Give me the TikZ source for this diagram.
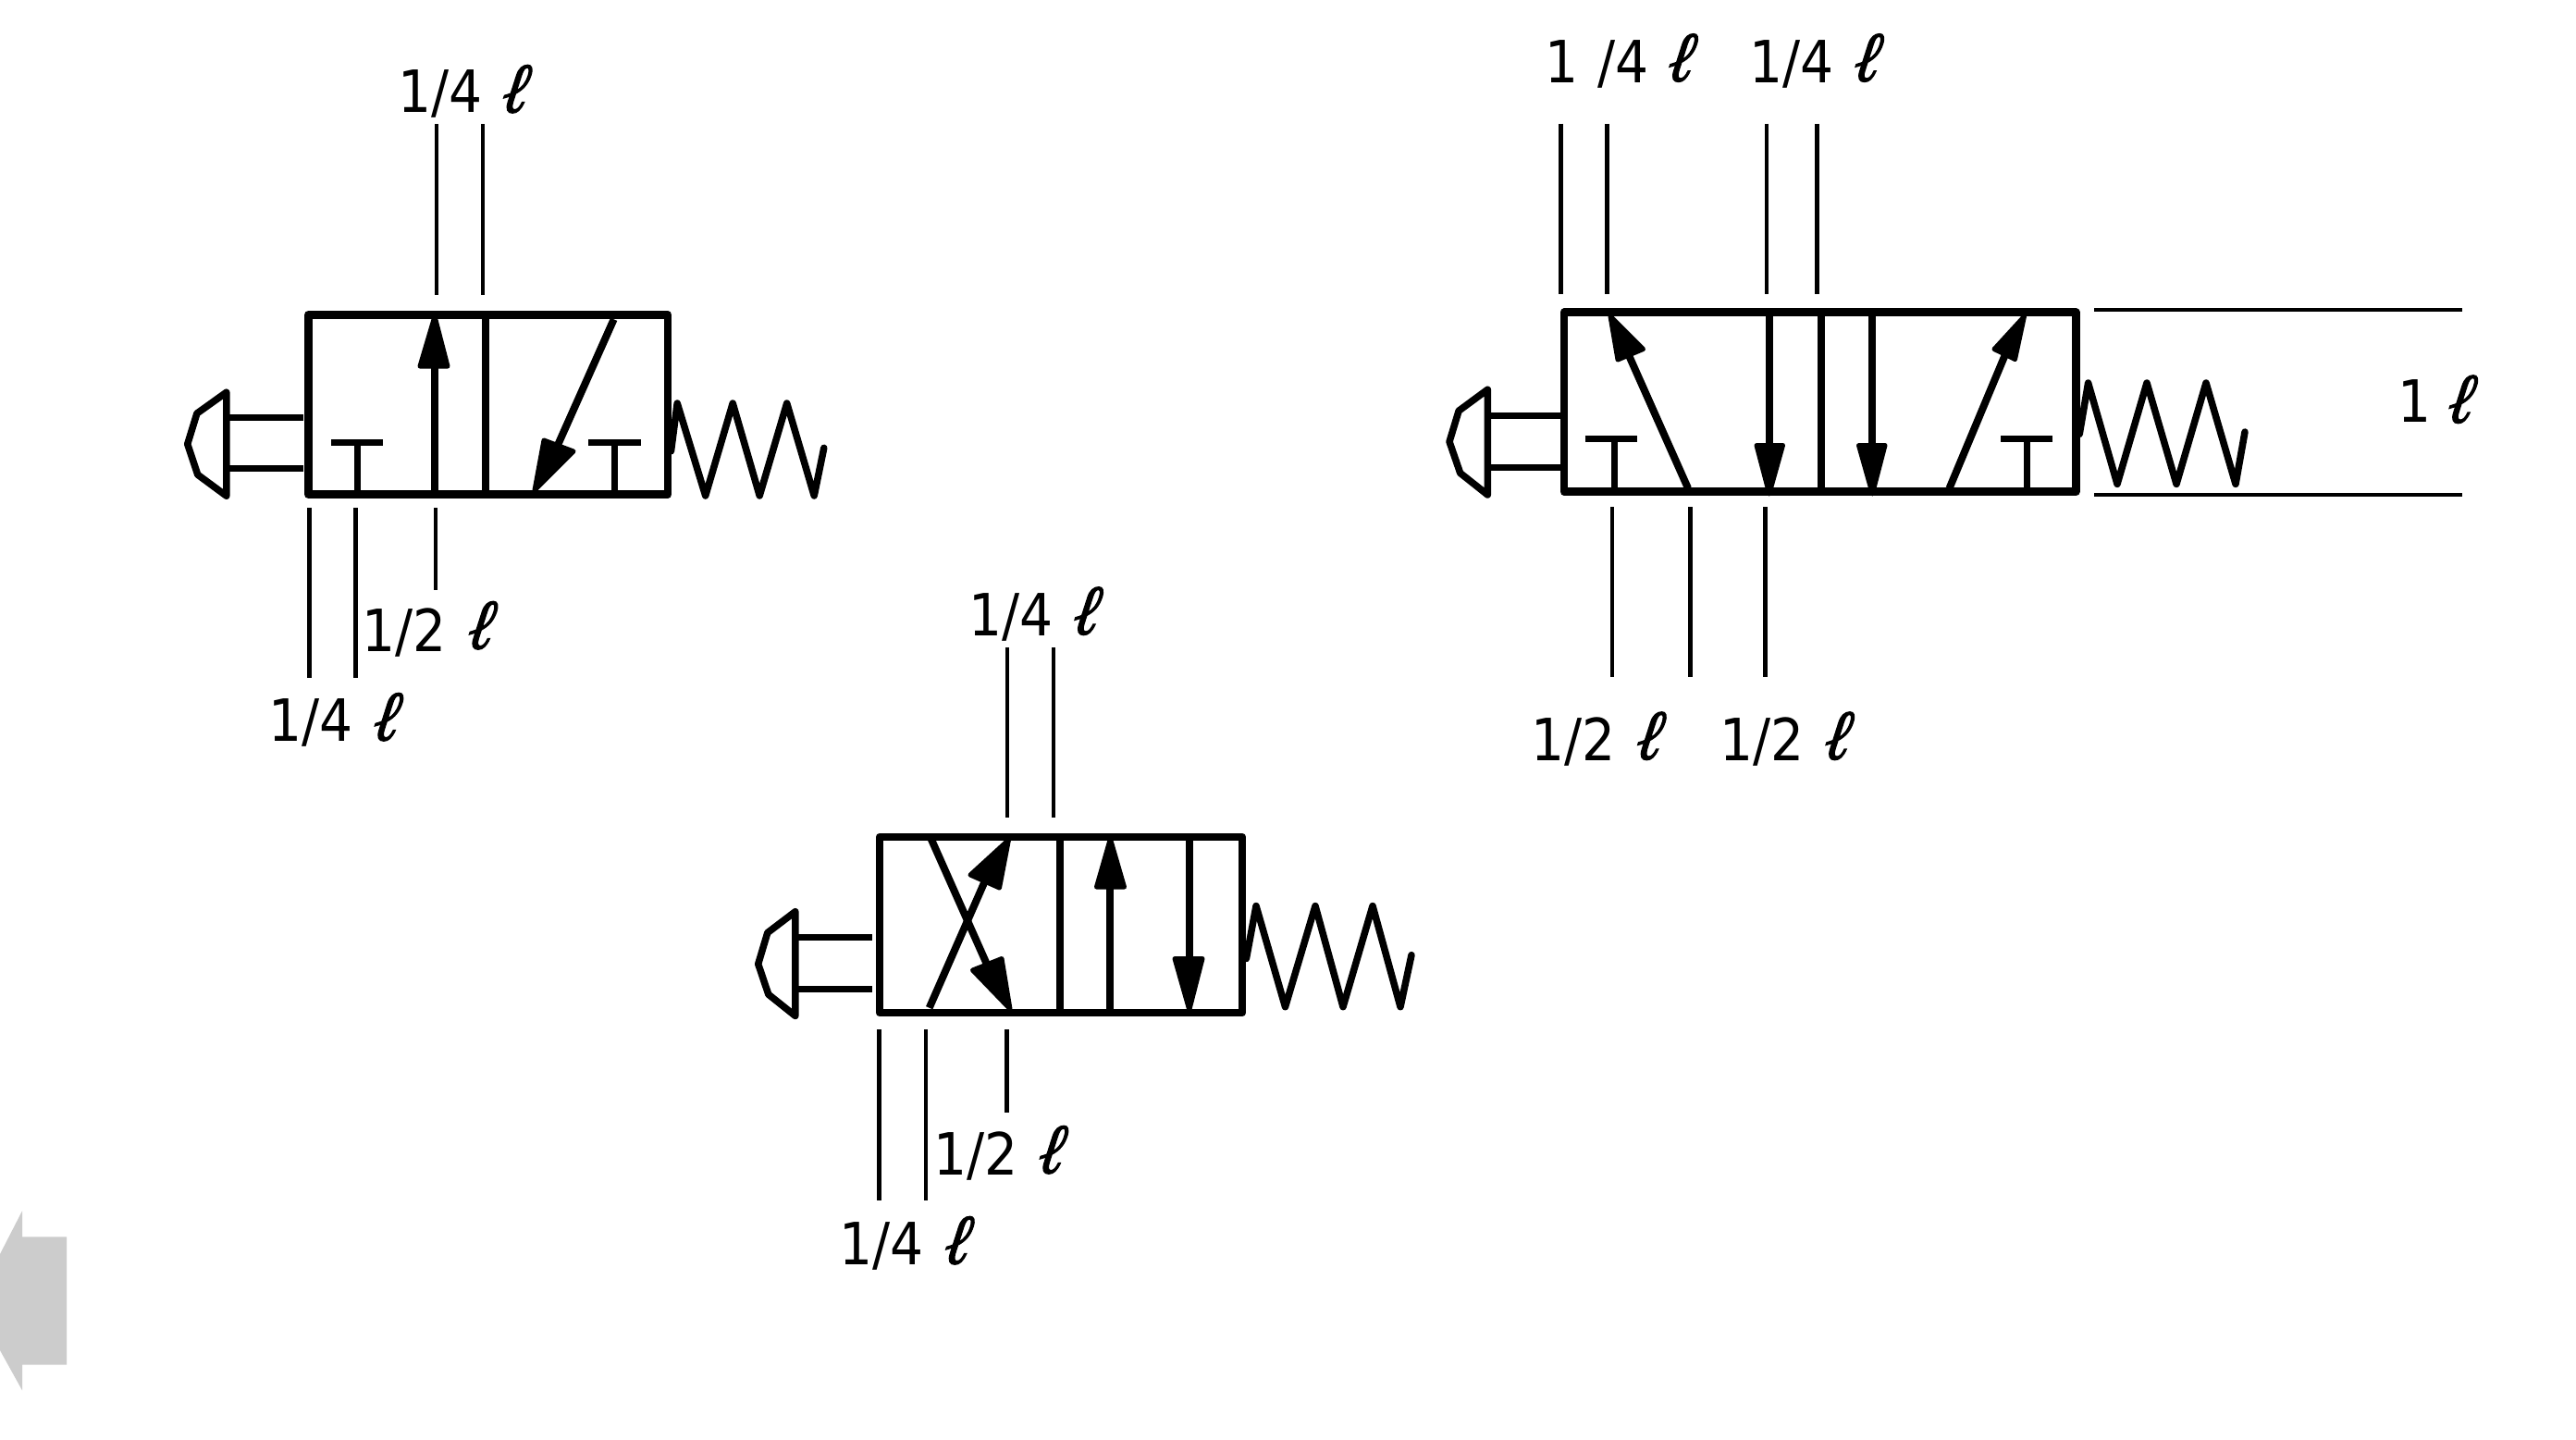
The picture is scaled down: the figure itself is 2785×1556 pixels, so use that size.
\documentclass[tikz,border=0pt]{standalone}
\usepackage{fontspec}
\setmainfont[FakeStretch=0.9]{DejaVu Sans}
\newfontfamily\ellfont[FakeSlant=0.32,FakeBold=1.6,FakeStretch=0.85]{Liberation Serif}
\tikzset{
  vbox/.style={draw=black,line width=8.5pt,line join=round,line cap=round},
  divider/.style={draw=black,line width=8pt},
  rod/.style={draw=black,line width=7pt},
  shaft/.style={draw=black,line width=8pt},
  thinl/.style={draw=black,line width=4.5pt},
  tee/.style={draw=black,line width=7pt},
  head/.style={draw=black,fill=black,line width=5pt,line join=round},
  button/.style={draw=black,line width=7.5pt,line join=round},
  spring/.style={draw=black,line width=7.5pt,line join=round,line cap=round},
  lbl/.style={anchor=base west,inner sep=0pt,xshift=1.5pt,font=\fontsize{63}{70}\selectfont},
  ellt/.style={anchor=base west,inner sep=0pt,xshift=-10pt,yshift=1.5pt}
}
\newcommand{\litre}{{\fontsize{77}{82}\selectfont\ellfont ℓ}}
\begin{document}
\begin{tikzpicture}[x=1pt,y=-1pt]
\useasboundingbox (0,0) rectangle (2785,1556);
\fill[white] (0,0) rectangle (2785,1556);
% grey back arrow
\fill[black!20] (0,1356) -- (24,1309.3) -- (24,1337.3) -- (72,1337.3) -- (72,1475.7) -- (24,1475.7) -- (24,1503.3) -- (0,1460) -- cycle;

% ---------- valve 1 ----------
\draw[vbox] (333.3,340.3) rectangle (722,534.7);
\draw[divider] (525.3,340.3) -- (525.3,534.7);
\draw[shaft] (470,534.7) -- (470,396);
\draw[head] (470,342) -- (454,396) -- (484,396) -- cycle;
\draw[shaft] (663.6,345.3) -- (600,488);
\draw[head] (578,530) -- (588,476) -- (620,488) -- cycle;
\draw[tee] (358.4,478.7) -- (413.6,478.7) (386.5,478.7) -- (386.5,534.7);
\draw[tee] (636,478.7) -- (692.6,478.7) (664.5,478.7) -- (664.5,534.7);
\draw[button] (244.8,424.2) -- (212.9,447) -- (202.7,480.2) -- (213.8,513.3) -- (244.8,536.2) -- cycle;
\draw[rod] (244.8,451.2) -- (327.5,451.2) (244.8,506.7) -- (327.5,506.7);
\draw[spring] (725.5,487.8) -- (732.2,436) -- (762.7,536) -- (792.2,436) -- (821.2,536) -- (850.7,436) -- (880.2,536) -- (890.8,484.3);
\draw[thinl] (472,134) -- (472,319) (522,134) -- (522,319);
\draw[thinl] (334.3,549) -- (334.3,732.6) (384.6,549) -- (384.6,732.6) (471,549) -- (471,638.4);
\node[lbl] (a1) at (428.6,121.4) {1/4};
\node[ellt] (a1e) at (545.5,123) {\litre};
\node[lbl] (a2) at (389.8,704) {1/2};
\node[ellt] (a2e) at (508.3,703) {\litre};
\node[lbl] (a3) at (288.4,801.8) {1/4};
\node[ellt] (a3e) at (406.2,802) {\litre};

% ---------- valve 3 ----------
\draw[vbox] (951,905) rectangle (1343,1095);
\draw[divider] (1146,905) -- (1146,1095);
\draw[shaft] (1200.4,1095) -- (1200.4,959);
\draw[head] (1200.4,907) -- (1185.5,959) -- (1215.5,959) -- cycle;
\draw[shaft] (1285.8,905) -- (1285.8,1036.5);
\draw[head] (1285.8,1092) -- (1270,1036.5) -- (1300,1036.5) -- cycle;
\draw[shaft] (1006.2,906) -- (1068,1045);
\draw[head] (1092,1091) -- (1051.5,1049) -- (1083,1036.5) -- cycle;
\draw[shaft] (1004.7,1089.7) -- (1066,950);
\draw[head] (1090.5,908) -- (1049,946) -- (1080.5,960) -- cycle;
\draw[button] (859.8,985.7) -- (829.8,1008.5) -- (819.7,1042.3) -- (830.8,1075.2) -- (859.8,1098.4) -- cycle;
\draw[rod] (859.8,1013.8) -- (943.2,1013.8) (859.8,1069.4) -- (943.2,1069.4);
\draw[spring] (1347.4,1036.5) -- (1358,979.5) -- (1389.5,1088.7) -- (1422,979.5) -- (1452,1088.7) -- (1484,979.5) -- (1514,1088.7) -- (1526,1032.6);
\draw[thinl] (1089,700) -- (1089,883.7) (1139,700) -- (1139,883.7);
\draw[thinl] (950.3,1113) -- (950.3,1297.6) (1001,1113) -- (1001,1297.6) (1088.6,1113) -- (1088.6,1203.3);
\node[lbl] (b1) at (1045.8,687.4) {1/4};
\node[ellt] (b1e) at (1162.9,687.4) {\litre};
\node[lbl] (b2) at (1007.7,1270) {1/2};
\node[ellt] (b2e) at (1125.2,1270) {\litre};
\node[lbl] (b3) at (906,1367.8) {1/4};
\node[ellt] (b3e) at (1023.6,1368) {\litre};

% ---------- valve 2 ----------
\draw[vbox] (1691,337.7) rectangle (2244.3,531.7);
\draw[divider] (1968.6,337.7) -- (1968.6,531.7);
\draw[shaft] (1825,528) -- (1760,382);
\draw[head] (1741,342) -- (1749,389) -- (1776.5,377.5) -- cycle;
\draw[shaft] (1912.8,337.7) -- (1912.8,480);
\draw[head] (1912.8,534) -- (1899,481.5) -- (1927.5,481.5) -- cycle;
\draw[shaft] (2024.3,337.7) -- (2024.3,480);
\draw[head] (2024.3,534) -- (2009.5,481.5) -- (2038,481.5) -- cycle;
\draw[shaft] (2107.5,528) -- (2168.5,382);
\draw[head] (2188.5,342) -- (2156,377.5) -- (2178.5,388.5) -- cycle;
\draw[tee] (1713.5,474.8) -- (1769.7,474.8) (1745.5,474.8) -- (1745.5,531.7);
\draw[tee] (2163.3,474.8) -- (2219.4,474.8) (2191.3,474.8) -- (2191.3,531.7);
\draw[button] (1608.3,421.2) -- (1577.1,444.2) -- (1567,477.6) -- (1578.7,511.5) -- (1608.3,535) -- cycle;
\draw[rod] (1608.3,449.7) -- (1691,449.7) (1608.3,505) -- (1691,505);
\draw[spring] (2248.2,469.4) -- (2257.6,414) -- (2289,523.4) -- (2321,414) -- (2353,523.4) -- (2385,414) -- (2417,523.4) -- (2427,467);
\draw[thinl] (1687.5,133.5) -- (1687.5,318) (1737.5,133.5) -- (1737.5,318) (1910,133.5) -- (1910,318) (1964.5,133.5) -- (1964.5,318);
\draw[thinl] (1743,548) -- (1743,732) (1827.5,548) -- (1827.5,732) (1908.5,548) -- (1908.5,732);
\draw[thinl] (2264,335.2) -- (2661.5,335.2) (2264,535) -- (2661.5,535);
\node[lbl] (c1) at (1668.4,89) {1\hspace{3.5pt} /4};
\node[ellt] (c1e) at (1805.9,89.3) {\litre};
\node[lbl] (c2) at (1889.8,89) {1/4};
\node[ellt] (c2e) at (2007,89.3) {\litre};
\node[lbl] (c3) at (1653.6,822) {1/2};
\node[ellt] (c3e) at (1771.6,822.5) {\litre};
\node[lbl] (c4) at (1857.8,822) {1/2};
\node[ellt] (c4e) at (1975,822.5) {\litre};
\node[lbl] (c5) at (2590.4,456.8) {1};
\node[ellt] (c5e) at (2649,458.5) {\litre};
\end{tikzpicture}
\end{document}
